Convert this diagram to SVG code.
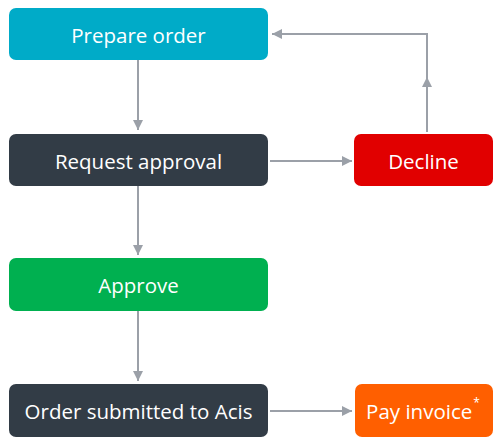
<svg xmlns="http://www.w3.org/2000/svg" width="500" height="445" viewBox="0 0 500 445">
<defs>
<style>
.lbl{font-family:"Open Sans","Liberation Sans",sans-serif;font-size:20.5px;fill:#ffffff;text-anchor:middle;dominant-baseline:central}
.edge{fill:none;stroke:#9ba0a8;stroke-width:2}
</style>
<marker id="ah" viewBox="0 0 10 10" refX="10" refY="5" markerWidth="10" markerHeight="10" markerUnits="userSpaceOnUse" orient="auto">
<path d="M0,0 L10,5 L0,10 Z" fill="#9ba0a8"/>
</marker>
</defs>
<rect width="500" height="445" fill="#ffffff"/>
<g id="connectors">
<line class="edge" x1="138" y1="60" x2="138" y2="130" marker-end="url(#ah)"/>
<line class="edge" x1="138" y1="186" x2="138" y2="255" marker-end="url(#ah)"/>
<line class="edge" x1="138" y1="311" x2="138" y2="381" marker-end="url(#ah)"/>
<line class="edge" x1="270" y1="161" x2="352" y2="161" marker-end="url(#ah)"/>
<line class="edge" x1="270" y1="411" x2="352" y2="411" marker-end="url(#ah)"/>
<line class="edge" x1="427" y1="132" x2="427" y2="77" marker-end="url(#ah)"/>
<polyline class="edge" points="427,80 427,34 272,34" marker-end="url(#ah)"/>
</g>
<g id="prepare"><rect x="9" y="8" width="259" height="52" rx="7" fill="#00abc8"/><text class="lbl" x="138.5" y="35">Prepare order</text></g>
<g id="request"><rect x="9" y="134" width="259" height="52" rx="7" fill="#323c46"/><text class="lbl" x="138.5" y="161">Request approval</text></g>
<g id="decline"><rect x="354" y="134" width="139" height="52" rx="7" fill="#e10000"/><text class="lbl" x="423.5" y="161">Decline</text></g>
<g id="approve"><rect x="9" y="258" width="259" height="53" rx="7" fill="#00b050"/><text class="lbl" x="138.5" y="285">Approve</text></g>
<g id="submitted"><rect x="9" y="384" width="259" height="53" rx="7" fill="#323c46"/><text class="lbl" x="138.5" y="411">Order submitted to Acis</text></g>
<g id="pay"><rect x="355" y="384" width="138" height="53" rx="7" fill="#ff5f00"/><text class="lbl" x="423" y="411">Pay invoice<tspan font-size="12" dx="1" dy="-9">*</tspan></text></g>
</svg>
